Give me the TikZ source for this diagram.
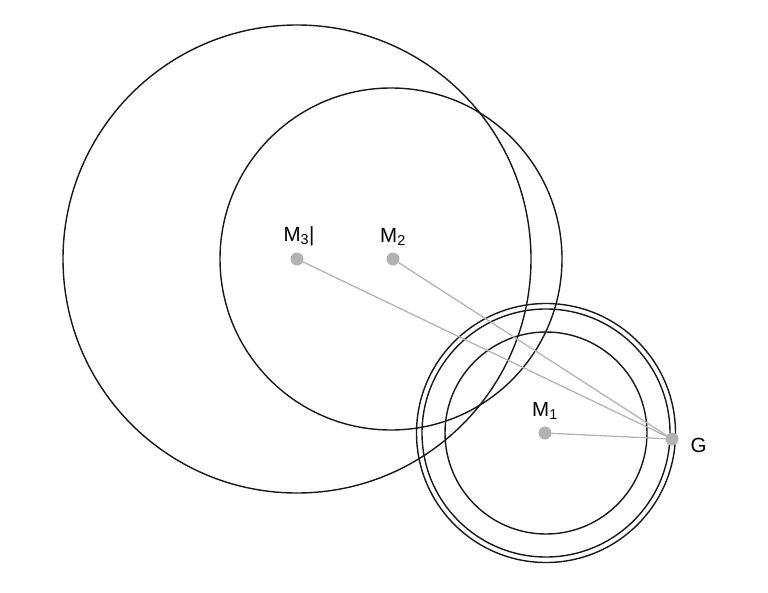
\documentclass[tikz,border=0pt]{standalone}
\usepackage{fontspec}
\setmainfont{Liberation Sans}
\usetikzlibrary{positioning}
\definecolor{ptgray}{RGB}{178,178,178}
\definecolor{lngray}{RGB}{180,180,180}
\tikzset{
  dot/.style={circle, fill=ptgray, inner sep=0pt, minimum size=0.39cm},
  lbl/.style={inner sep=0pt, font=\fontsize{17.5}{20}\selectfont},
  orbit/.style={black!90, line width=1.2pt},
  ray/.style={lngray, line width=1.1pt}
}
\begin{document}
\begin{tikzpicture}[x=0.03cm, y=-0.03cm]
\useasboundingbox (0,0) rectangle (768,592);
% circles
\draw[orbit] (297,259) circle (234);
\draw[orbit] (391,259) circle (171);
\draw[orbit] (546,433) circle (129.5);
\draw[orbit] (546,433) circle (124);
\draw[orbit] (546,433) circle (101);
% points
\node[dot] (M3) at (297,259) {};
\node[dot] (M2) at (393,259) {};
\node[dot] (M1) at (545,433) {};
\node[dot] (G) at (672,439) {};
\draw[ray] (M3) -- (G);
\draw[ray] (M2) -- (G);
\draw[ray] (M1) -- (G);
% labels
\node[lbl, above=0.2cm of M3, xshift=0.06cm] {M\textsubscript{3}|};
\node[lbl, above=0.2cm of M2] {M\textsubscript{2}};
\node[lbl, above=0.2cm of M1] {M\textsubscript{1}};
\node[lbl, right=0.35cm of G, yshift=-0.18cm] {G};
\end{tikzpicture}
\end{document}
